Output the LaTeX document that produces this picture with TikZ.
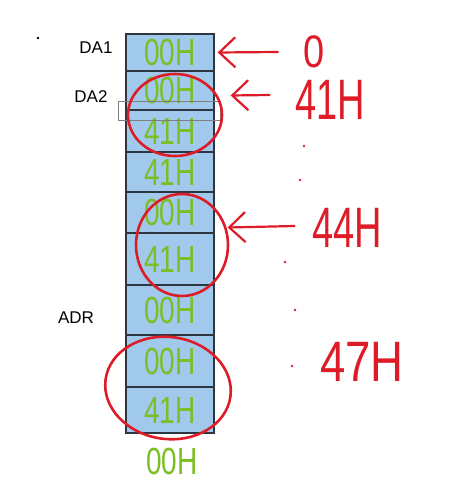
\documentclass[tikz,border=0pt]{standalone}
\usepackage{fontspec}
\setmainfont{Liberation Sans}
\usetikzlibrary{arrows.meta}
\definecolor{cellblue}{RGB}{160,201,236}
\definecolor{hgreen}{RGB}{124,190,36}
\definecolor{hred}{RGB}{222,28,40}
\definecolor{edge}{RGB}{45,55,65}
\begin{document}
\begin{tikzpicture}[x=1pt,y=-1pt,
  cell/.style={draw=edge,line width=1.3pt,fill=cellblue,minimum width=88pt,inner sep=0pt,
    font=\fontsize{28}{28}\selectfont,text=hgreen},
  lbl/.style={font=\fontsize{17}{17}\selectfont,text=black},
  redtxt/.style={text=hred,font=\fontsize{38}{38}\selectfont},
  redarrow/.style={draw=hred,line width=2.2pt,line cap=round,-{Straight Barb[length=16pt,width=30pt,line width=2.2pt]}},
  ring/.style={draw=hred,line width=2.6pt},
  rdot/.style={fill=hred,circle,inner sep=1pt}]
\useasboundingbox (0,0) rectangle (474,486);
\newcommand{\tall}[1]{\scalebox{1}[1.35]{#1}}
\node[cell,minimum height=37pt] (c1) at (170,52.5) {\tall{00H}};
\node[cell,minimum height=39pt] (c2) at (170,90.5) {\tall{00H}};
\node[cell,minimum height=42pt] (c3) at (170,131) {\tall{41H}};
\node[cell,minimum height=40pt] (c4) at (170,172) {\tall{41H}};
\node[cell,minimum height=41pt] (c5) at (170,212.5) {\tall{00H}};
\node[cell,minimum height=52pt] (c6) at (170,259) {\tall{41H}};
\node[cell,minimum height=50pt] (c7) at (170,310) {\tall{00H}};
\node[cell,minimum height=52pt] (c8) at (170,361) {\tall{00H}};
\node[cell,minimum height=46pt] (c9) at (170,410) {\tall{41H}};
\node[text=hgreen,font=\fontsize{28}{28}\selectfont] (bot) at (172,461) {\tall{00H}};
% gray selection box
\node[draw=gray,line width=0.8pt,minimum width=102pt,minimum height=19pt,inner sep=0pt] (sel) at (169,110.5) {};
% labels
\node[lbl] (da1) at (96,48) {DA1};
\node[lbl] (da2) at (91,97) {DA2};
\node[lbl] (adr) at (76,318) {ADR};
\node[circle,fill=black,inner sep=0.9pt] (bd) at (38,38) {};
% red ellipses
\draw[ring] (175,115) ellipse [x radius=47, y radius=41];
\draw[ring] (182,245) ellipse [x radius=46, y radius=51];
\draw[ring,rotate around={-8:(168,388)}] (168,388) ellipse [x radius=63, y radius=51];
% red texts
\node[redtxt] (t0) at (314,52) {\scalebox{1}[1.2]{0}};
\node[redtxt] (t41) at (330,100) {\scalebox{1}[1.5]{41H}};
\node[redtxt] (t44) at (347,228) {\scalebox{1}[1.5]{44H}};
\node[redtxt] (t47) at (362,362) {\scalebox{1.2}[1.5]{47H}};
% arrows
\draw[redarrow] ([xshift=-22pt]t0.west) -- ([xshift=3pt]c1.east);
\draw[redarrow] ([xshift=-22pt,yshift=5pt]t41.west) -- ([xshift=16pt,yshift=-5pt]c2.east);
\draw[redarrow] ([xshift=-14pt,yshift=2pt]t44.west) -- ([xshift=13pt,yshift=-15pt]c5.east);
% red dots
\node[rdot] (d1) at (304,146) {};
\node[rdot] (d2) at (300,180) {};
\node[rdot] (d3) at (285,262) {};
\node[rdot] (d4) at (295,310) {};
\node[rdot] (d5) at (292,366) {};
\end{tikzpicture}
\end{document}
